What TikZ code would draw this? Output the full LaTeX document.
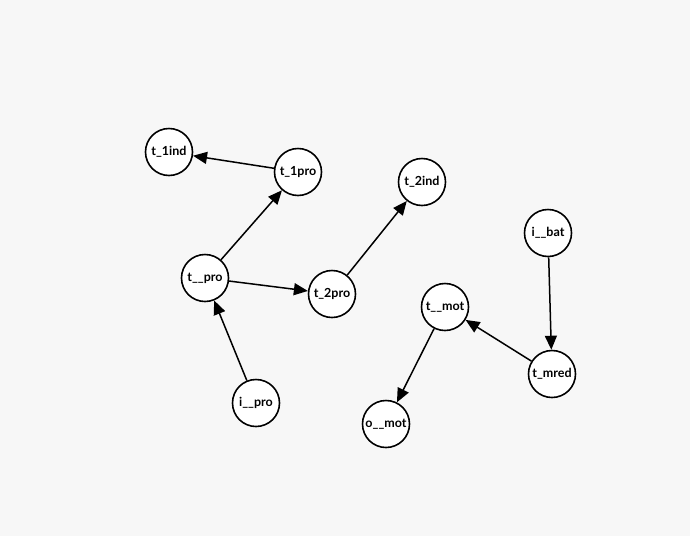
\documentclass[tikz,border=0pt]{standalone}
\usepackage{fontspec}
\setmainfont{Lato}
\usetikzlibrary{arrows.meta}
\tikzset{
    %Define standard arrow tip
    >={Triangle[length=14pt,width=12pt]},
    %Define style for states
    state/.style={
           circle,
           draw=black, line width=1.6pt,
           minimum size=47pt,
           inner sep=0pt,
           font=\bfseries\fontsize{12.5}{13}\selectfont,
           text centered,
           fill=white},
    % Define arrow style
    pil/.style={
           ->,
           line width=1.5pt}
}
\begin{document}
\begin{tikzpicture}[x=1pt,y=-1pt]
\fill[black!3] (0,0) rectangle (690,536);
\useasboundingbox (0,0) rectangle (690,536);
\node[state] (t1ind) at (169,152) {t\_1ind};
\node[state] (t1pro) at (298,172) {t\_1pro};
\node[state] (t2ind) at (422,182) {t\_2ind};
\node[state] (tpro) at (205,278) {t\_\_pro};
\node[state] (t2pro) at (332,294) {t\_2pro};
\node[state] (ibat) at (548,233) {i\_\_bat};
\node[state] (tmot) at (445,307) {t\_\_mot};
\node[state] (tmred) at (552,374) {t\_mred};
\node[state] (ipro) at (256,403) {i\_\_pro};
\node[state] (omot) at (386,424) {o\_\_mot};
\path[pil]
	(tpro) edge (t1pro) edge (t2pro)
	(t1pro) edge (t1ind)
	(t2pro) edge (t2ind)
	(ipro) edge (tpro)
	(ibat) edge (tmred)
	(tmred) edge (tmot)
	(tmot) edge (omot);
\end{tikzpicture}
\end{document}
